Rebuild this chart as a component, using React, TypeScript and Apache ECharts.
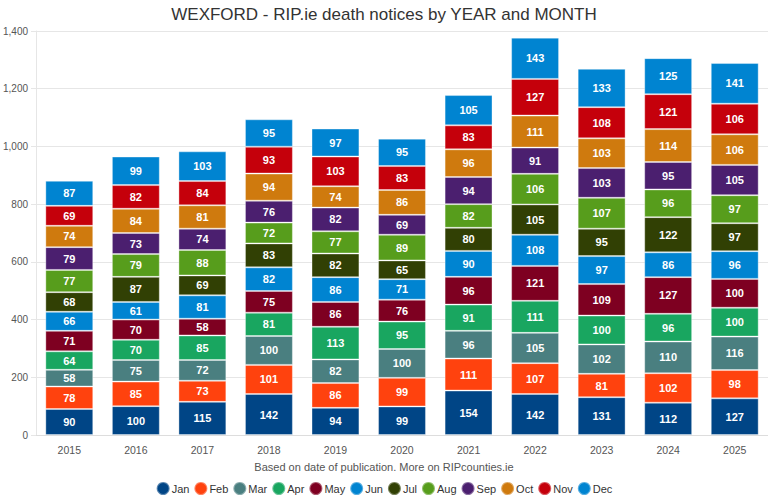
import React, { useEffect, useRef } from "react";
import * as echarts from "echarts";

const years = ["2015", "2016", "2017", "2018", "2019", "2020", "2021", "2022", "2023", "2024", "2025"];
const months = ["Jan", "Feb", "Mar", "Apr", "May", "Jun", "Jul", "Aug", "Sep", "Oct", "Nov", "Dec"];
const monthColors = [
  "#004586", "#ff420e", "#4a7f80", "#19a660", "#7e0021", "#0084d1",
  "#314004", "#579d1c", "#4b1f6f", "#cf7a0e", "#c5000b", "#0084d1",
];

// one row per month, one value per year
const jan = [90, 100, 115, 142, 94, 99, 154, 142, 131, 112, 127];
const feb = [78, 85, 73, 101, 86, 99, 111, 107, 81, 102, 98];
const mar = [58, 75, 72, 100, 82, 100, 96, 105, 102, 110, 116];
const apr = [64, 70, 85, 81, 113, 95, 91, 111, 100, 96, 100];
const may = [71, 70, 58, 75, 86, 76, 96, 121, 109, 127, 100];
const jun = [66, 61, 81, 82, 86, 71, 90, 108, 97, 86, 96];
const jul = [68, 87, 69, 83, 82, 65, 80, 105, 95, 122, 97];
const aug = [77, 79, 88, 72, 77, 89, 82, 106, 107, 96, 97];
const sep = [79, 73, 74, 76, 82, 69, 94, 91, 103, 95, 105];
const oct = [74, 84, 81, 94, 74, 86, 96, 111, 103, 114, 106];
const nov = [69, 82, 84, 93, 103, 83, 83, 127, 108, 121, 106];
const dec = [87, 99, 103, 95, 97, 95, 105, 143, 133, 125, 141];
const monthValues = [jan, feb, mar, apr, may, jun, jul, aug, sep, oct, nov, dec];

const FONT = "Liberation Sans, Arial, Helvetica, sans-serif";

const App: React.FC = () => {
  const chartRef = useRef<HTMLDivElement>(null);

  useEffect(() => {
    document.body.style.margin = "0";
    document.body.style.overflow = "hidden";
    const chart = echarts.init(chartRef.current!, undefined, { renderer: "svg" });

    chart.setOption({
      animation: false,
      textStyle: { fontFamily: FONT },
      title: [
        {
          text: "WEXFORD - RIP.ie death notices by YEAR and MONTH",
          left: "center",
          top: 1,
          textStyle: { fontSize: 17, fontWeight: "normal", color: "#333", fontFamily: FONT },
        },
        {
          text: "Based on date of publication. More on RIPcounties.ie",
          left: "center",
          top: 456,
          textStyle: { fontSize: 11, fontWeight: "normal", color: "#555", fontFamily: FONT },
        },
      ],
      legend: {
        top: 476,
        left: "center",
        icon: "circle",
        itemWidth: 13,
        itemHeight: 13,
        itemGap: 4,
        textStyle: { fontSize: 11, color: "#333", padding: [0, 0, 0, -3] },
        data: months,
      },
      grid: { left: 34, right: 0, top: 31, bottom: 64 },
      xAxis: {
        type: "category",
        data: years,
        axisLine: { lineStyle: { color: "#ddd" } },
        axisTick: { show: false },
        axisLabel: { color: "#555", fontSize: 10.5, margin: 9 },
      },
      yAxis: {
        type: "value",
        min: 0,
        max: 1400,
        interval: 200,
        axisLine: { show: true, lineStyle: { color: "#e6e6e6" } },
        axisTick: { show: true, length: 5, lineStyle: { color: "#e6e6e6" } },
        splitLine: { lineStyle: { color: "#e6e6e6" } },
        axisLabel: {
          color: "#555",
          fontSize: 10,
          margin: 8,
          formatter: (v: number) => v.toLocaleString("en-US"),
        },
      },
      series: months.map((m, i) => ({
        name: m,
        type: "bar",
        stack: "total",
        barWidth: "72%",
        data: monthValues[i],
        itemStyle: {
          color: monthColors[i],
          borderColor: "rgba(255,255,255,0.35)",
          borderWidth: 1,
        },
        label: {
          show: true,
          position: "inside",
          color: "#fff",
          fontSize: 11,
          fontWeight: "bold",
        },
      })),
    });

    return () => {
      chart.dispose();
    };
  }, []);

  return <div ref={chartRef} style={{ width: "768px", height: "499px" }}></div>;
};

export default App;
